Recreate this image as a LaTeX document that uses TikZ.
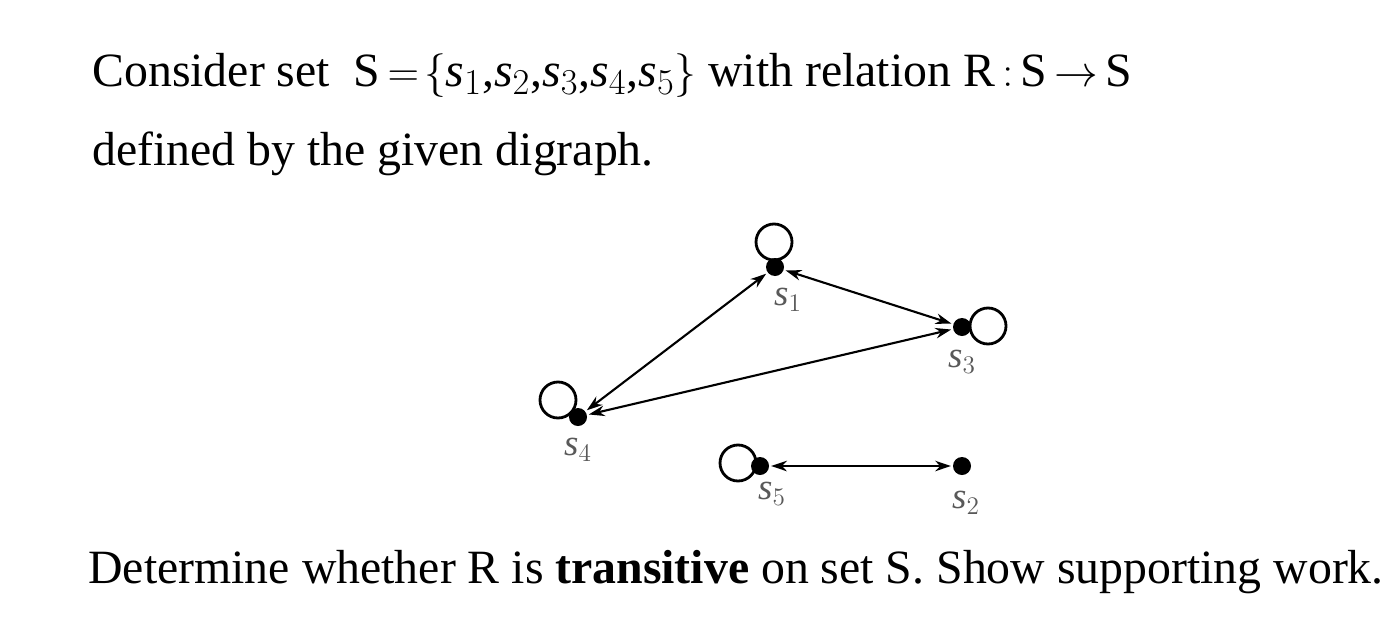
\documentclass[tikz,border=0pt]{standalone}
\usepackage{fontspec}
\setmainfont{Liberation Serif}
\usetikzlibrary{arrows.meta}
\newcommand{\si}[1]{\textit{s}$_{#1}$}
\begin{document}
\begin{tikzpicture}[x=0.02cm,y=-0.02cm,
  dot/.style={circle,fill=black,inner sep=0pt,minimum size=0.36cm},
  lab/.style={text=black!65,font=\fontsize{21}{22}\selectfont},
  edge/.style={{Stealth[length=9pt,width=6pt]}-{Stealth[length=9pt,width=6pt]},line width=1.2pt,shorten >=1pt,shorten <=1pt},
  loopc/.style={line width=1.6pt},
  txt/.style={anchor=base west,inner sep=0pt,font=\fontsize{27.2}{30}\selectfont}]
\useasboundingbox (0,0) rectangle (1398,636);
\node[txt] (t1) at (92,86) {Consider set\ \ S$\,=\!\Big\{$\si1,\si2,\si3,\si4,\si5$\Big\}$ with relation R$\,:\,$S$\,\rightarrow\,$S};
\node[txt] (t2) at (92,165) {defined by the given digraph.};
\node[txt] (t3) at (88,583) {Determine whether R is \textbf{transitive} on set S. Show supporting work.};
\node[dot] (s1) at (775,267) {};
\node[dot] (s3) at (962,327) {};
\node[dot] (s4) at (578,417) {};
\node[dot] (s5) at (760,466) {};
\node[dot] (s2) at (962,466) {};
\node[lab] (l1) at (788,300) {\si1};
\node[lab] (l3) at (962,362) {\si3};
\node[lab] (l4) at (578,450) {\si4};
\node[lab] (l5) at (772,494) {\si5};
\node[lab] (l2) at (966,503) {\si2};
\draw[loopc] (774,242) circle (18);
\draw[loopc] (988,326) circle (18);
\draw[loopc] (558,400) circle (18);
\draw[loopc] (738,463) circle (18);
\draw[edge] (s1) -- (s4);
\draw[edge] (s1) -- (s3);
\draw[edge] (s3) -- (s4);
\draw[edge] (s5) -- (s2);
\end{tikzpicture}
\end{document}
